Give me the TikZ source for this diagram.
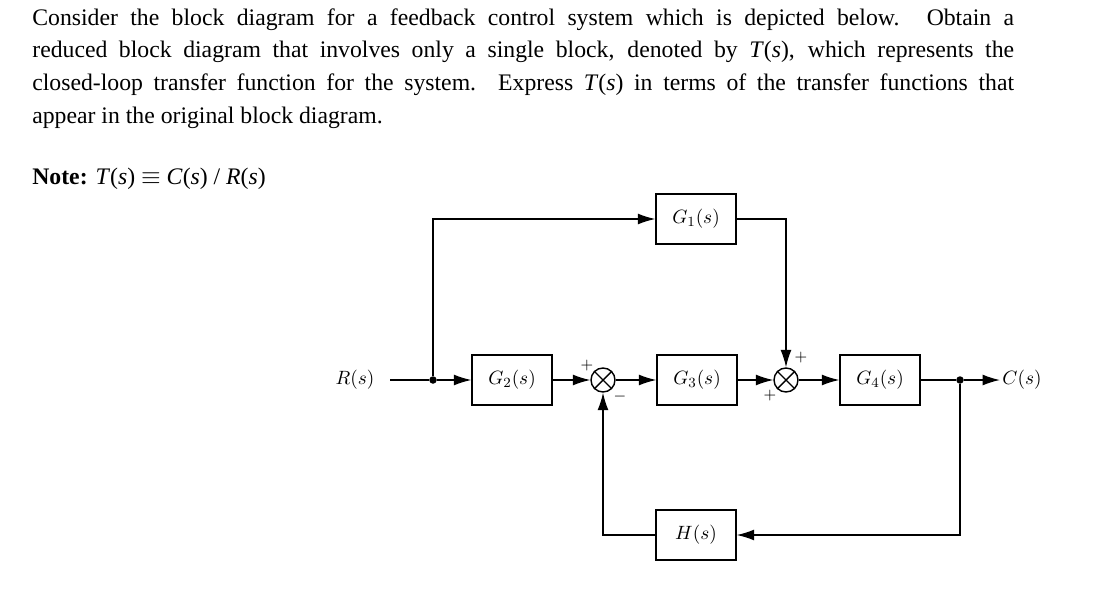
\documentclass[tikz,border=0pt]{standalone}
\usepackage{fontspec}
\setmainfont{Liberation Serif}
\usetikzlibrary{arrows.meta}
\begin{document}
\begin{tikzpicture}[x=0.02cm,y=-0.02cm,
  blk/.style={draw,thick,minimum width=1.6cm,minimum height=1cm,inner sep=0pt,font=\fontsize{11}{13}\selectfont},
  sum/.style={draw,thick,circle,minimum size=0.48cm,inner sep=0pt},
  line/.style={thick},
  arr/.style={thick,-{Latex[length=3.5mm,width=2.2mm]}},
  sgn/.style={font=\fontsize{9}{10}\selectfont,inner sep=0pt},
  dot/.style={circle,fill,inner sep=0pt,minimum size=1.5mm}]
\useasboundingbox (0,0) rectangle (1096,595);
% problem text
\node[anchor=north west,text width=19.64cm,align=justify,inner sep=0pt,
  font=\fontsize{13.5}{18.7}\selectfont] (txt) at (32,8)
{Consider the block diagram for a feedback control system which is depicted below. Obtain a\linebreak
reduced block diagram that involves only a single block, denoted by \textit{T}(\textit{s}), which represents the\linebreak
closed-loop transfer function for the system. Express \textit{T}(\textit{s}) in terms of the transfer functions that\linebreak
appear in the original block diagram.};
\node[anchor=west,inner sep=0pt,font=\fontsize{13.5}{18.7}\selectfont] (note) at (32,179)
{\textbf{Note:} \textit{T}(\textit{s}) $\equiv$ \textit{C}(\textit{s}) / \textit{R}(\textit{s})};
% blocks
\node[blk] (g2) at (512,380) {$G_2(s)$};
\node[blk] (g3) at (697,380) {$G_3(s)$};
\node[blk] (g4) at (880,380) {$G_4(s)$};
\node[blk] (g1) at (696,219) {$G_1(s)$};
\node[blk] (h) at (696,535) {$H(s)$};
\node[sum] (s1) at (603,380) {};
\node[sum] (s2) at (786,380) {};
\foreach \s in {s1,s2}{
  \draw[thick] (\s.north west) -- (\s.south east) (\s.north east) -- (\s.south west);}
\node[font=\fontsize{11}{13}\selectfont] (r) at (355,380) {$R(s)$};
\node[font=\fontsize{11}{13}\selectfont] (c) at (1022,380) {$C(s)$};
\node[dot] (d1) at (433,380) {};
\node[dot] (d2) at (960,380) {};
\coordinate (rin) at (390,380);
\coordinate (cout) at (1000,380);
% connectors
\draw[line] (rin) -- (d1);
\draw[arr] (d1) -- (g2);
\draw[arr] (g2) -- (s1);
\draw[arr] (s1) -- (g3);
\draw[arr] (g3) -- (s2);
\draw[arr] (s2) -- (g4);
\draw[line] (g4) -- (d2);
\draw[arr] (d2) -- (cout);
\draw[arr] (d1) |- (g1);
\draw[arr] (g1) -| (s2);
\draw[arr] (d2) |- (h);
\draw[arr] (h) -| (s1);
% signs
\node[sgn] at (587,366) {$+$};
\node[sgn] at (620,397) {$-$};
\node[sgn] at (801,358) {$+$};
\node[sgn] at (770,396) {$+$};
\end{tikzpicture}
\end{document}
